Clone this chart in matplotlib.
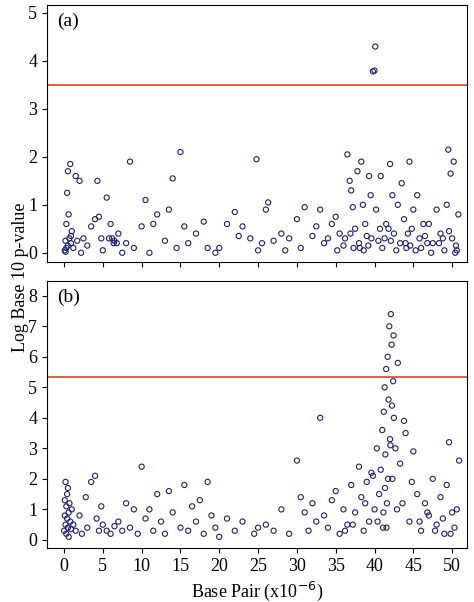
import matplotlib
matplotlib.use("Agg")
import matplotlib.pyplot as plt

# panel (a): (position in Mb, -log10 p)
points_a = [
    (0.1, 0.05), (0.2, 0.25), (0.3, 0.1), (0.4, 1.25), (0.5, 1.7), (0.6, 0.8), (0.3, 0.6), (0.7, 0.3),
    (0.8, 1.85), (0.9, 0.2), (1.0, 0.45), (1.2, 0.1), (1.5, 1.6), (1.7, 0.25), (2.0, 1.5), (2.2, 0.0),
    (2.5, 0.3), (3.0, 0.15), (3.5, 0.55), (4.0, 0.7), (4.3, 1.5), (4.5, 0.75), (4.8, 0.3), (5.0, 0.05),
    (5.5, 1.15), (6.0, 0.6), (6.2, 0.3), (6.5, 0.25), (6.8, 0.2), (7.0, 0.4), (7.5, 0.0), (8.0, 0.2),
    (8.5, 1.9), (9.0, 0.1), (10.0, 0.55), (10.5, 1.1), (11.0, 0.0), (11.5, 0.6), (12.0, 0.8), (13.0, 0.25),
    (13.5, 0.9), (14.0, 1.55), (14.5, 0.1), (15.0, 2.1), (15.5, 0.55), (16.0, 0.2), (17.0, 0.4), (18.0, 0.65),
    (18.5, 0.1), (19.5, 0.0), (20.0, 0.1), (21.0, 0.6), (22.0, 0.85), (22.5, 0.35), (23.0, 0.55), (24.0, 0.3),
    (24.8, 1.95), (25.0, 0.05), (25.5, 0.2), (26.0, 0.9), (26.3, 1.05), (27.0, 0.25), (28.0, 0.4), (28.5, 0.05),
    (29.0, 0.3), (30.0, 0.7), (30.5, 0.1), (31.0, 0.95), (32.0, 0.35), (32.5, 0.55), (33.0, 0.9), (33.5, 0.2),
    (34.0, 0.3), (34.5, 0.6), (35.0, 0.75), (35.5, 0.4), (36.0, 0.15), (36.5, 2.05), (36.8, 1.5), (37.0, 1.3),
    (37.2, 0.95), (37.5, 0.5), (37.8, 1.7), (38.0, 0.2), (38.3, 1.9), (38.5, 1.0), (38.8, 0.6), (39.0, 0.35),
    (39.3, 1.6), (39.5, 1.2), (39.8, 3.78), (40.0, 3.8), (40.1, 4.3), (40.2, 0.9), (40.5, 0.25), (40.8, 1.6),
    (41.0, 0.1), (41.5, 0.6), (42.0, 1.85), (42.3, 1.2), (42.5, 0.4), (43.0, 1.0), (43.5, 1.45), (43.8, 0.7),
    (44.0, 0.2), (44.5, 1.9), (44.8, 0.5), (45.0, 0.9), (45.5, 1.2), (46.0, 0.1), (46.5, 0.35), (47.0, 0.6),
    (47.5, 0.2), (48.0, 0.9), (48.5, 0.4), (49.0, 0.05), (49.3, 1.0), (49.5, 2.15), (49.8, 1.65), (50.0, 0.3),
    (50.2, 1.9), (50.5, 0.15), (50.8, 0.8), (35.2, 0.05), (36.2, 0.3), (37.3, 0.1), (38.6, 0.05), (39.2, 0.15),
    (41.3, 0.3), (42.8, 0.05), (43.3, 0.2), (44.3, 0.4), (45.3, 0.05), (46.3, 0.6), (47.3, 0.0), (48.3, 0.2),
    (49.6, 0.45), (50.4, 0.0), (45.8, 0.3), (44.6, 0.15), (41.8, 0.5), (0.2, 0.02), (0.5, 0.15), (0.9, 0.35),
    (5.8, 0.3), (6.4, 0.2), (36.9, 0.4), (38.1, 0.1), (39.6, 0.3), (40.7, 0.5), (42.1, 0.25), (44.1, 0.1),
    (46.8, 0.2), (48.8, 0.3), (50.6, 0.05),
]

# panel (b)
points_b = [
    (0.0, 0.3), (0.1, 0.8), (0.1, 1.3), (0.2, 0.5), (0.2, 1.9), (0.3, 0.2), (0.3, 1.1), (0.4, 0.7),
    (0.4, 1.5), (0.5, 0.4), (0.5, 1.7), (0.6, 0.9), (0.6, 0.1), (0.7, 1.2), (0.8, 0.6), (0.9, 0.35),
    (1.0, 1.0), (1.2, 0.5), (1.5, 0.3), (2.0, 0.8), (2.3, 0.2), (2.8, 1.4), (3.0, 0.4), (3.5, 1.9),
    (4.0, 2.1), (4.2, 0.7), (4.5, 0.3), (4.8, 1.1), (5.0, 0.5), (5.5, 0.3), (6.0, 0.2), (6.5, 0.45),
    (7.0, 0.6), (7.5, 0.3), (8.0, 1.2), (8.5, 0.4), (9.0, 1.0), (9.5, 0.2), (10.0, 2.4), (10.5, 0.7),
    (11.0, 1.0), (11.5, 0.3), (12.0, 1.5), (12.5, 0.6), (13.0, 0.2), (13.5, 1.6), (14.0, 0.9), (15.0, 0.4),
    (15.5, 1.8), (16.0, 0.3), (16.5, 1.1), (17.0, 0.6), (17.5, 1.3), (18.0, 0.2), (18.5, 1.9), (19.0, 0.8),
    (19.5, 0.4), (20.0, 0.1), (21.0, 0.7), (22.0, 0.3), (23.0, 0.6), (24.5, 0.2), (25.0, 0.4), (26.0, 0.5),
    (27.0, 0.3), (28.0, 1.0), (29.0, 0.2), (30.0, 2.6), (30.5, 1.4), (31.0, 0.9), (31.5, 0.3), (32.0, 1.2),
    (32.5, 0.6), (33.0, 4.0), (33.5, 0.8), (34.0, 0.4), (34.5, 1.3), (35.0, 1.6), (35.5, 0.2), (36.0, 1.0),
    (36.5, 0.5), (37.0, 1.8), (37.5, 0.9), (38.0, 2.4), (38.3, 1.4), (38.6, 0.3), (39.0, 1.9), (39.3, 0.6),
    (39.6, 2.2), (40.0, 1.0), (40.3, 3.0), (40.6, 1.5), (40.8, 2.3), (41.0, 3.6), (41.1, 0.4), (41.2, 4.2),
    (41.3, 5.0), (41.4, 2.8), (41.5, 5.6), (41.6, 1.2), (41.7, 6.0), (41.8, 4.6), (41.9, 7.0), (42.0, 3.3),
    (42.1, 7.4), (42.2, 6.4), (42.3, 2.0), (42.4, 5.2), (42.5, 4.0), (42.7, 3.0), (43.0, 5.8), (43.3, 2.5),
    (43.6, 1.2), (44.0, 3.5), (44.5, 0.6), (45.0, 2.9), (45.5, 1.5), (46.0, 0.3), (46.5, 1.2), (47.0, 0.8),
    (47.5, 2.0), (48.0, 0.5), (48.5, 1.4), (49.0, 0.2), (49.3, 1.8), (49.6, 3.2), (50.0, 0.9), (50.3, 0.4),
    (50.6, 1.0), (50.9, 2.6), (36.2, 0.3), (37.2, 0.5), (38.8, 1.2), (39.8, 2.1), (40.4, 0.6), (41.15, 0.9),
    (41.35, 1.7), (41.55, 0.4), (41.75, 2.0), (42.05, 3.1), (42.25, 4.4), (42.45, 6.7), (42.9, 1.0),
    (43.8, 3.9), (44.8, 1.9), (45.8, 0.6), (46.8, 0.9), (47.8, 0.3), (48.8, 0.7), (49.8, 0.2),
]

xa = [p[0] for p in points_a]
ya = [p[1] for p in points_a]
xb = [p[0] for p in points_b]
yb = [p[1] for p in points_b]

plt.rcParams['font.family'] = ['Liberation Serif']
plt.rcParams['font.size'] = 13

fig = plt.figure(figsize=(4.74, 6.02), dpi=100)
ax1 = fig.add_axes([0.099, 0.565, 0.886, 0.427])
ax2 = fig.add_axes([0.099, 0.09, 0.886, 0.444])

navy = '#1f1f7a'
for ax, xs, ys, lab, line, yl, yt in [
        (ax1, xa, ya, '(a)', 3.5, (-0.19, 5.17), range(0, 6)),
        (ax2, xb, yb, '(b)', 5.35, (-0.26, 8.5), range(0, 9))]:
    ax.scatter(xs, ys, s=14, facecolors='none', edgecolors=navy, linewidths=0.8)
    ax.axhline(line, color='#e8502a', lw=1.3)
    ax.set_xlim(-2.2, 51.9)
    ax.set_ylim(*yl)
    ax.set_yticks(list(yt))
    ax.set_xticks(range(0, 51, 5))
    ax.text(0.025, 0.97, lab, transform=ax.transAxes, va='top', fontsize=14)

ax1.tick_params(labelbottom=False)
ax2.set_xlabel('Base Pair (x10$^{-6}$)')
fig.text(0.025, 0.54, 'Log Base 10 p-value', rotation=90, va='center', fontsize=13)

fig.savefig('out.png', dpi=100)
